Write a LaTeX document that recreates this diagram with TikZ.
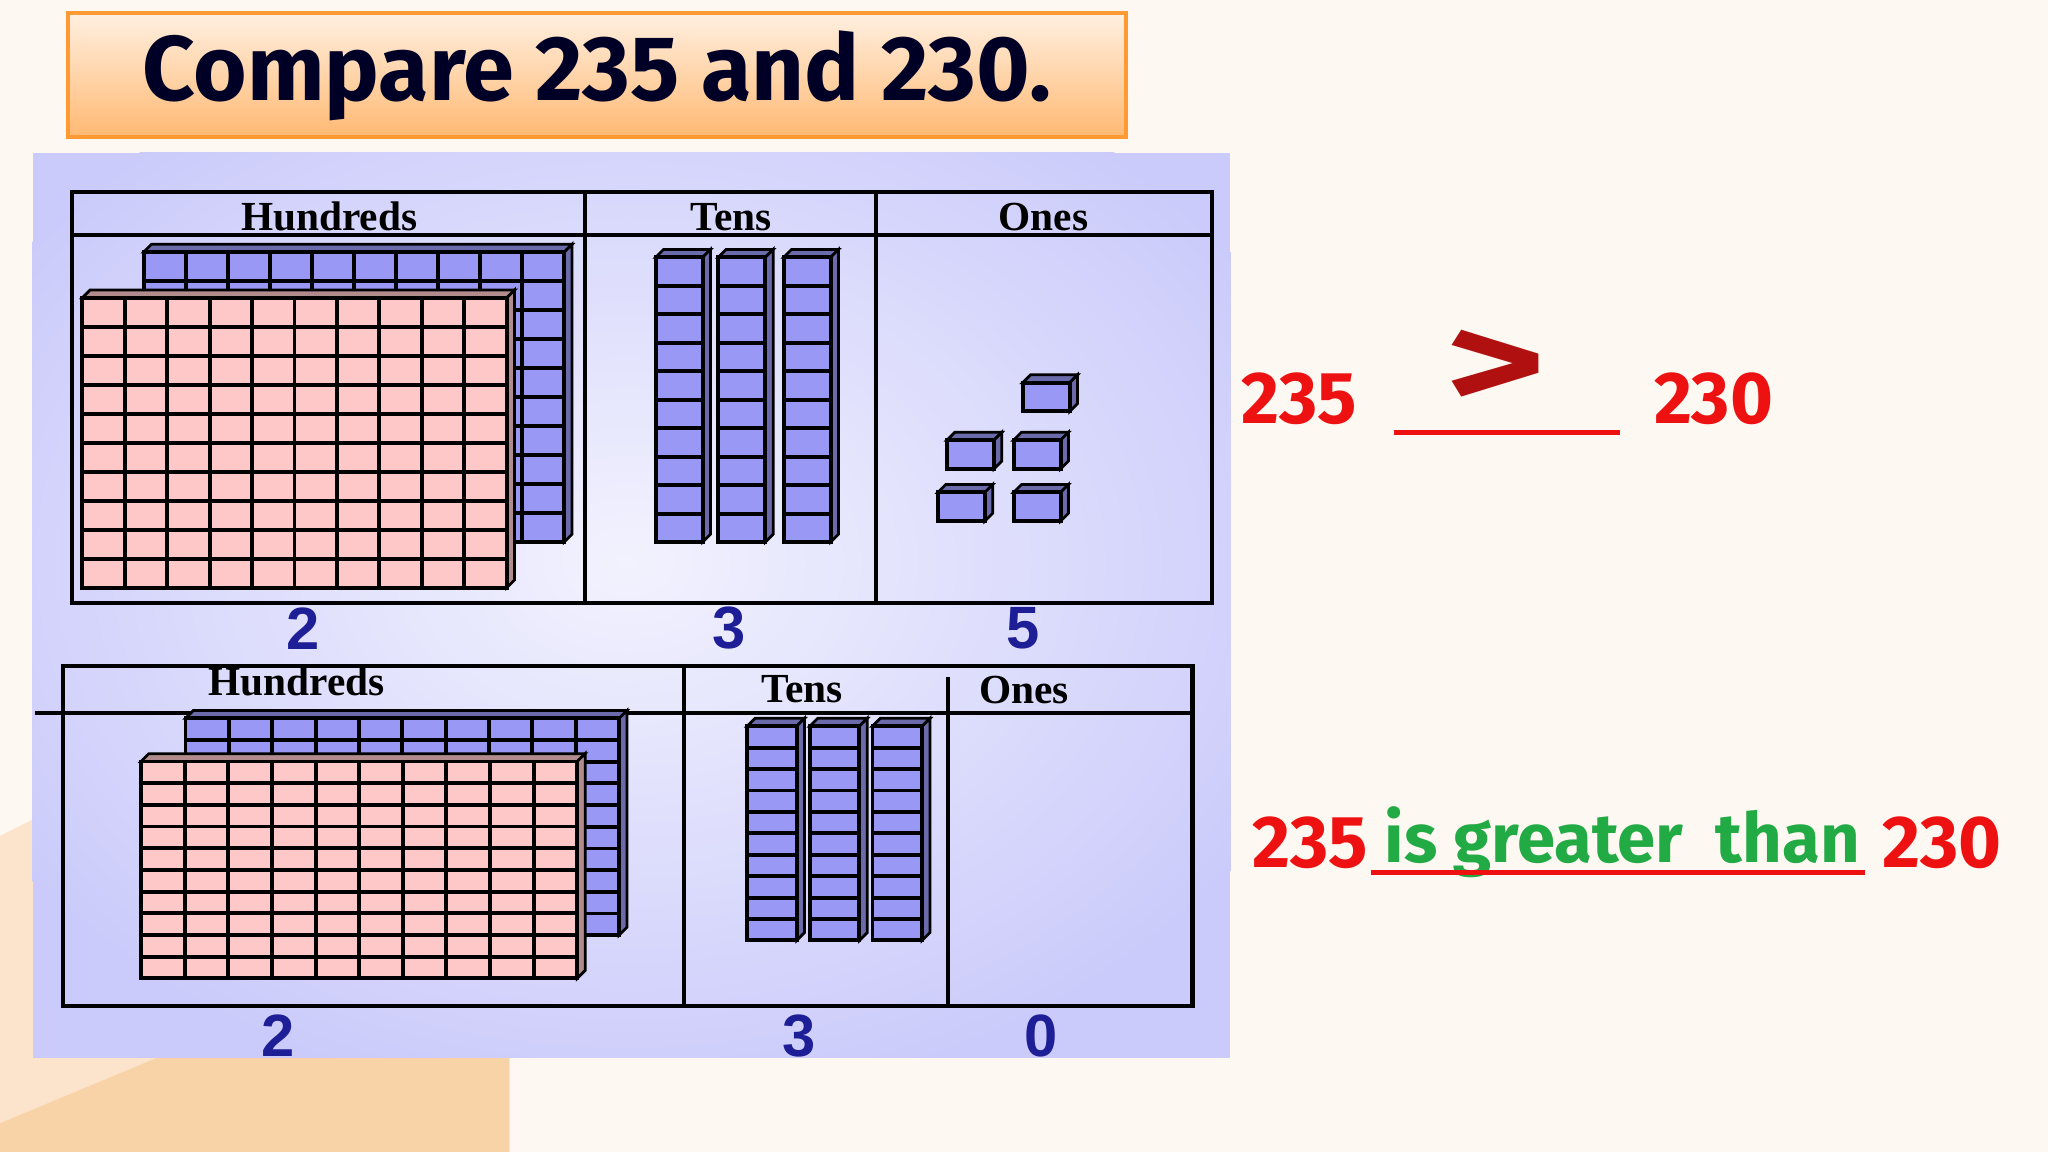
\documentclass[tikz,border=0pt]{standalone}
\usepackage{fontspec}
\setmainfont{Liberation Serif}
\newfontfamily\comic{Fira Sans}
\newfontfamily\arialb{Liberation Sans}
\begin{document}
\definecolor{cream}{HTML}{FDF8F1}
\definecolor{peach}{HTML}{F9D3A8}
\definecolor{panel}{HTML}{CBCBFB}
\definecolor{pinkc}{HTML}{FFC8C8}
\definecolor{bluec}{HTML}{9999F5}
\definecolor{numblue}{HTML}{1E1E96}
\definecolor{redt}{HTML}{EE1111}
\definecolor{greent}{HTML}{22AA44}
\definecolor{darkred}{HTML}{B01010}
\newcommand\myblocks[7]{%
  \pgfmathsetmacro\xa{#1}\pgfmathsetmacro\ya{#2}%
  \pgfmathsetmacro\xb{#1+#3*#5}\pgfmathsetmacro\yb{#2+#4*#6}%
  \fill[#7!70!black,draw=black,line width=0.6pt] (\xa,\ya)--(\xa+6,\ya-6)--(\xb+6,\ya-6)--(\xb,\ya)--cycle;
  \fill[#7!70!black,draw=black,line width=0.6pt] (\xb,\ya)--(\xb+6,\ya-6)--(\xb+6,\yb-6)--(\xb,\yb)--cycle;
  \foreach \i in {1,...,#5}{\foreach \j in {1,...,#6}{%
    \draw[fill=#7,line width=0.85pt] ({#1+(\i-1)*#3},{#2+(\j-1)*#4}) rectangle ++(#3,#4);}}%
}
\begin{tikzpicture}[x=0.01cm,y=-0.01cm,
  hdr/.style={font=\bfseries\fontsize{9}{9}\selectfont},
  dig/.style={font=\arialb\bfseries\fontsize{13}{13}\selectfont,text=numblue},
  big/.style={font=\comic\bfseries\fontsize{16}{16}\selectfont,text=redt},
  tline/.style={line width=0.9pt}]
\useasboundingbox (0,0) rectangle (1568,882);
\fill[cream] (0,0) rectangle (1568,882);
\fill[peach!60] (0,882)--(0,640)--(40,620)--(390,620)--(390,882)--cycle;
\fill[peach] (0,882)--(0,860)--(120,810)--(390,810)--(390,882)--cycle;
% title
\shade[draw=orange!80,line width=0.8pt,top color=orange!12,bottom color=orange!55] (52,10) rectangle (862,105);
\node[font=\comic\bfseries\fontsize{20}{20}\selectfont,text=black!85!blue] (tt) at (457,58) {Compare 235 and 230.};
% panel
\begin{scope}
\clip (25,117) rectangle (942,810);
\fill[panel] (25,117) rectangle (942,810);
\shade[inner color=white!75!panel,outer color=panel] (480,430) ellipse (560 and 420);
\end{scope}
% top table
\draw[tline] (55,147) rectangle (928,462);
\draw[tline] (55,180)--(928,180) (448,147)--(448,462) (671,147)--(671,462);
\node[hdr] (h1) at (252,166) {Hundreds};
\node[hdr] (t1) at (560,166) {Tens};
\node[hdr] (o1) at (799,166) {Ones};
\myblocks{110}{193}{32.2}{22.2}{10}{10}{bluec}
\myblocks{63}{228}{32.5}{22.2}{10}{10}{pinkc}
\foreach \x in {502,550,600}{\myblocks{\x}{197}{36}{21.8}{1}{10}{bluec}}
\myblocks{783}{293}{36}{22}{1}{1}{bluec}
\myblocks{725}{337}{36}{22}{1}{1}{bluec}
\myblocks{776}{337}{36}{22}{1}{1}{bluec}
\myblocks{718}{377}{36}{22}{1}{1}{bluec}
\myblocks{776}{377}{36}{22}{1}{1}{bluec}
\node[dig] (d1) at (232,481) {2};
\node[dig] (d2) at (558,481) {3};
\node[dig] (d3) at (783,481) {5};
% bottom table
\draw[tline] (48,510) rectangle (913,770);
\draw[tline] (27,546)--(913,546) (524,510)--(524,770) (726,518)--(726,770);
\node[hdr] (h2) at (227,522) {Hundreds};
\node[hdr] (t2) at (614,528) {Tens};
\node[hdr] (o2) at (784,528) {Ones};
\myblocks{142}{550}{33.2}{16.6}{10}{10}{bluec}
\myblocks{108}{583}{33.4}{16.6}{10}{10}{pinkc}
\foreach \x in {572,620,668}{\myblocks{\x}{556}{38}{16.4}{1}{10}{bluec}}
\node[dig] (e1) at (213,793) {2};
\node[dig] (e2) at (612,793) {3};
\node[dig] (e3) at (797,793) {0};
% comparison
\node[big] (a1) at (995,305) {235};
\coordinate (l1) at (1067,331); \coordinate (l2) at (1240,331);
\draw[redt,line width=1.2pt] (l1)--(l2);
\node[font=\comic\bfseries\fontsize{30}{30}\selectfont,text=darkred,xscale=1.4] (gt) at (1145,283) {>};
\node[big] (a2) at (1312,305) {230};
\node[big] (b1) at (1003,645) {235};
\node[big,text=greent,font=\comic\bfseries\fontsize{15}{15}\selectfont] (b2) at (1242,645) {is\ greater\ \ than};
\coordinate (u1) at (1050,668); \coordinate (u2) at (1428,668);
\draw[redt,line width=1.2pt] (u1)--(u2);
\node[big] (b3) at (1487,645) {230};
\end{tikzpicture}
\end{document}
